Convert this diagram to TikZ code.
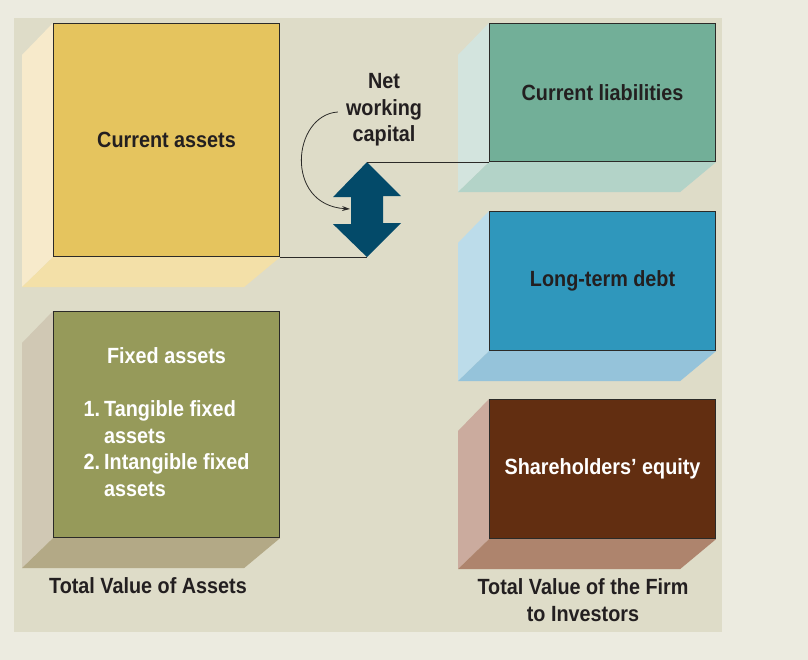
\documentclass[tikz,border=0pt]{standalone}
\usepackage{fontspec}
\setmainfont[FakeStretch=0.9]{Liberation Sans}
\usetikzlibrary{arrows.meta,calc,backgrounds}

\definecolor{outerbg}{HTML}{ECEBE0}
\definecolor{panel}{HTML}{DEDCC8}
\definecolor{txtdark}{HTML}{231F20}
\definecolor{boxline}{HTML}{2B2A28}
\definecolor{cafront}{HTML}{E5C45E}
\definecolor{caside}{HTML}{F7EACB}
\definecolor{cabot}{HTML}{F3E0A8}
\definecolor{clfront}{HTML}{72AF98}
\definecolor{clside}{HTML}{D3E4DE}
\definecolor{clbot}{HTML}{B3D3C8}
\definecolor{ltfront}{HTML}{2F97BC}
\definecolor{ltside}{HTML}{BCDCEA}
\definecolor{ltbot}{HTML}{95C3DA}
\definecolor{sefront}{HTML}{622E11}
\definecolor{seside}{HTML}{CBAB9E}
\definecolor{sebot}{HTML}{AE846D}
\definecolor{fafront}{HTML}{969A5A}
\definecolor{faside}{HTML}{D0C8B4}
\definecolor{fabot}{HTML}{B3A986}
\definecolor{nwcblue}{HTML}{034A69}

\tikzset{
  box/.style={draw=boxline, line width=1.1pt, minimum width=226pt, inner sep=0pt,
    anchor=north west, align=center, font=\bfseries\fontsize{22}{26.5}\selectfont},
  lbl/.style={inner sep=0pt, align=center, text=txtdark,
    font=\bfseries\fontsize{22}{26.5}\selectfont},
  link/.style={draw=boxline, line width=1.1pt}
}

\begin{document}
\begin{tikzpicture}[x=1pt,y=-1pt]
  \useasboundingbox (0,0) rectangle (808,660);

  % the five blocks
  \node[box, fill=cafront, text=txtdark, minimum height=233pt] (ca) at (53,23) {Current assets};
  \node[box, fill=fafront, text=white, minimum height=226pt] (fa) at (53,311)
    {\begin{tabular}{@{}r@{\hspace{4pt}}l@{}}
      \multicolumn{2}{c}{Fixed assets}\\[26.5pt]
      1. & Tangible fixed\\
         & assets\\
      2. & Intangible fixed\\
         & assets
    \end{tabular}};
  \node[box, fill=clfront, text=txtdark, minimum height=138pt] (cl) at (489,23) {Current liabilities};
  \node[box, fill=ltfront, text=txtdark, minimum height=139pt] (lt) at (489,211) {Long-term debt};
  \node[box, fill=sefront, text=white, minimum height=139pt] (se) at (489,399) {Shareholders’ equity};

  % shadows behind the blocks
  \begin{pgfonlayer}{background}
    \fill[outerbg] (0,0) rectangle (808,660);
    \fill[panel] (14,18) rectangle (722,632);
    \foreach \b/\s/\t in {ca/caside/cabot, fa/faside/fabot, cl/clside/clbot,
                          lt/ltside/ltbot, se/seside/sebot}{
      \fill[\s] (\b.north west) -- ++(-31,32) -- ($(\b.south west)+(-31,30)$) -- (\b.south west) -- cycle;
      \fill[\t] (\b.south west) -- ++(-31,30) -- ($(\b.south east)+(-36,30)$) -- (\b.south east) -- cycle;
    }
  \end{pgfonlayer}

  % net working capital
  \coordinate (dtop) at (367,0 |- cl.south west);
  \coordinate (dbot) at (367,0 |- ca.south east);
  \coordinate (dshaft) at (350,209);
  \fill[nwcblue] (dtop) -- ++(34,34) -- ++(-18,0) -- ++(0,27) -- ++(18,0) -- (dbot)
    -- ++(-34,-33) -- ++(18,0) -- ++(0,-27) -- ++(-18,0) -- cycle;
  \draw[link] (ca.south east) -- (dbot);
  \draw[link] (dtop) -- (cl.south west);

  \node[lbl] (nwc) at (384,110) {Net\\working\\capital};
  \draw[boxline, line width=0.8pt, -{Stealth[length=8pt,width=5pt]}]
    ([xshift=-8pt,yshift=-2pt]nwc.west) .. controls (292,115) and (284,205) .. (dshaft);

  % captions
  \node[lbl] (tva) at (148,586) {Total Value of Assets};
  \node[lbl] (tvf) at (583,600) {Total Value of the Firm\\to Investors};
\end{tikzpicture}
\end{document}
